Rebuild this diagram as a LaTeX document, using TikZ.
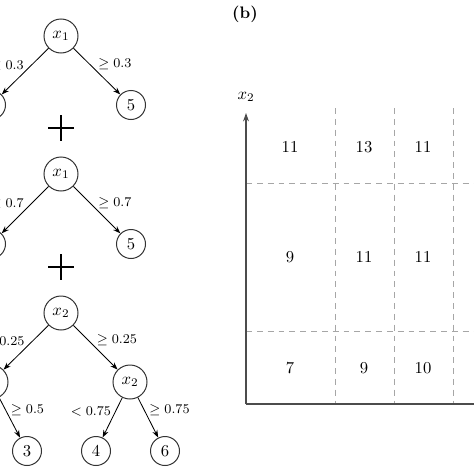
\documentclass[tikz,border=0pt]{standalone}
\usetikzlibrary{arrows.meta}
\begin{document}
\begin{tikzpicture}[x=0.6pt,y=-0.6pt,
  dec/.style={circle,draw=black!80,line width=0.6pt,minimum size=20.4pt,inner sep=0pt},
  leaf/.style={circle,draw=black!80,line width=0.6pt,minimum size=17.4pt,inner sep=0pt},
  edge/.style={-{Stealth[length=4.5pt,width=3.2pt]},line width=0.5pt},
  lblr/.style={midway,anchor=south west,inner sep=0.6pt,font=\footnotesize},
  lbll/.style={midway,anchor=south east,inner sep=0.6pt,font=\footnotesize},
  gridline/.style={dash pattern=on 3.5pt off 3pt,draw=black!35,line width=0.5pt},
  axisline/.style={draw=black!70,line width=0.9pt},
  plussign/.style={line width=0.9pt},
  cell/.style={inner sep=0pt}]
\useasboundingbox (0,0) rectangle (474,474);
\clip (0,0) rectangle (474,474);

% tree 1
\node[dec] (t1r) at (61,36) {$x_1$};
\node[leaf] (t1a) at (-9,105) {};
\node[leaf] (t1b) at (131,105) {$5$};
\draw[edge] (t1r) -- node[lbll]{$<0.3$} (t1a);
\draw[edge] (t1r) -- node[lblr]{$\geq 0.3$} (t1b);

\draw[plussign] (48,128) -- (74,128) (61,115) -- (61,141);

% tree 2
\node[dec] (t2r) at (61,174) {$x_1$};
\node[leaf] (t2a) at (-9,244) {};
\node[leaf] (t2b) at (131,244) {$5$};
\draw[edge] (t2r) -- node[lbll]{$<0.7$} (t2a);
\draw[edge] (t2r) -- node[lblr]{$\geq 0.7$} (t2b);

\draw[plussign] (48,267) -- (74,267) (61,254) -- (61,280);

% tree 3
\node[dec] (t3r) at (61,313) {$x_2$};
\node[dec] (t3a) at (-9,382) {};
\node[dec] (t3b) at (130,382) {$x_2$};
\node[leaf] (t3c) at (27,451) {$3$};
\node[leaf] (t3d) at (96,451) {$4$};
\node[leaf] (t3e) at (165,451) {$6$};
\draw[edge] (t3r) -- node[lbll]{$<0.25$} (t3a);
\draw[edge] (t3r) -- node[lblr]{$\geq 0.25$} (t3b);
\draw[edge] (t3a) -- node[lblr]{$\geq 0.5$} (t3c);
\draw[edge] (t3b) -- node[lbll]{$<0.75$} (t3d);
\draw[edge] (t3b) -- node[lblr]{$\geq 0.75$} (t3e);

% panel (b)
\node (blabel) at (245,14) {\textbf{(b)}};

\foreach \xx in {335,394,453} \draw[gridline] (\xx,108) -- (\xx,404);
\foreach \yy in {183,331} \draw[gridline] (246,\yy) -- (480,\yy);

\coordinate (orig) at (246,404);
\coordinate (ytip) at (246,113);
\coordinate (xend) at (480,404);
\draw[axisline,-{Stealth[length=5pt,width=3.5pt]}] (orig) -- (ytip);
\draw[axisline] (orig) -- (xend);
\node (ylab) at (246,97) {$x_2$};

\node[cell] (c11) at (290,147) {11};
\node[cell] (c12) at (364,147) {13};
\node[cell] (c13) at (423,147) {11};
\node[cell] (c21) at (290,257) {9};
\node[cell] (c22) at (364,257) {11};
\node[cell] (c23) at (423,257) {11};
\node[cell] (c31) at (290,368) {7};
\node[cell] (c32) at (364,368) {9};
\node[cell] (c33) at (423,368) {10};
\end{tikzpicture}
\end{document}
